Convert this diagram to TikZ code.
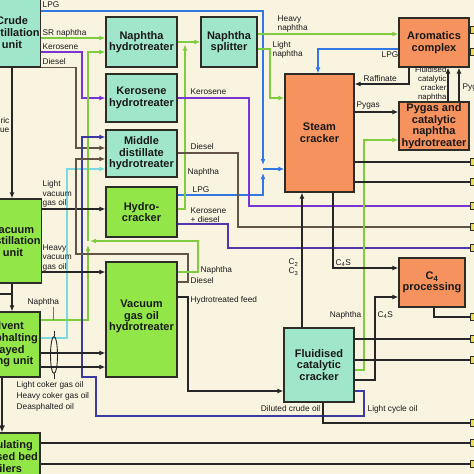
\documentclass[tikz,border=0pt]{standalone}
\usepackage{fontspec}
\setmainfont{Liberation Sans}
\usepackage{tikz}
\usetikzlibrary{arrows.meta, shapes.geometric}

\definecolor{cream}{RGB}{249,244,224}
\definecolor{tealbox}{RGB}{160,230,202}
\definecolor{greenbox}{RGB}{146,230,72}
\definecolor{orangebox}{RGB}{246,146,94}
\definecolor{edge}{RGB}{45,45,40}
\definecolor{naphcol}{RGB}{128,204,64}
\definecolor{lpgcol}{RGB}{50,120,228}
\definecolor{kerocol}{RGB}{122,52,212}
\definecolor{dslcol}{RGB}{98,84,70}
\definecolor{lcocol}{RGB}{58,58,160}
\definecolor{cyncol}{RGB}{120,218,224}
\definecolor{kdcol}{RGB}{82,52,172}
\definecolor{sqcol}{RGB}{232,222,88}

\begin{document}
\begin{tikzpicture}[x=1pt,y=-1pt,>={Latex[length=6pt,width=5pt]},line width=1.3pt]
\tikzstyle{unit}=[draw=edge,line width=1.2pt,inner sep=1pt,align=center,text=black!90,
                  font=\fontsize{11}{11.6}\selectfont\bfseries]
\tikzstyle{ht}=[unit,fill=tealbox]
\tikzstyle{gr}=[unit,fill=greenbox]
\tikzstyle{orng}=[unit,fill=orangebox]
\tikzstyle{lbl}=[inner sep=0pt,align=left,text=black!90,font=\fontsize{8.3}{9.4}\selectfont]
\tikzstyle{outsq}=[draw=edge,fill=sqcol,line width=0.8pt,minimum width=6pt,minimum height=7pt,inner sep=0pt]
\tikzset{blk/.style={draw=black!85}, naph/.style={draw=naphcol}, lpg/.style={draw=lpgcol},
         kero/.style={draw=kerocol}, dsl/.style={draw=dslcol}, lco/.style={draw=lcocol},
         cyn/.style={draw=cyncol}, kd/.style={draw=kdcol}}

\useasboundingbox (0,0) rectangle (474,474);
\clip (0,0) rectangle (474,474);
\fill[cream] (0,0) rectangle (474,474);

        \node[ht, minimum width=54pt, minimum height=69pt]    (cdu) at (12,32.5)    {Crude\\distillation\\unit};
        \node[gr, minimum width=54pt, minimum height=84pt]    (vdu) at (13,241)     {Vacuum\\distillation\\unit};
        \node[gr, minimum width=72pt, minimum height=65pt]    (sda) at (4,344.5)    {Solvent\\deasphalting\\delayed\\coking unit};
        \node[gr, minimum width=72pt, minimum height=47pt]    (cfb) at (4,456.5)    {Circulating\\fluidised bed\\boilers};

        \node[ht, minimum width=71pt, minimum height=50pt]    (nht) at (141.5,42)   {Naphtha\\hydrotreater};
        \node[ht, minimum width=71pt, minimum height=48pt]    (kht) at (141.5,98)   {Kerosene\\hydrotreater};
        \node[ht, minimum width=71pt, minimum height=47pt]    (mdh) at (141.5,153.5) {Middle\\distillate\\hydrotreater};
        \node[gr, minimum width=71pt, minimum height=50pt]    (hc)  at (141.5,212)  {Hydro-\\cracker};
        \node[gr, minimum width=71pt, minimum height=115pt, text depth=8pt] (vgo) at (141.5,319.5) {Vacuum\\gas oil\\hydrotreater};
        \node[ht, minimum width=56pt, minimum height=50pt]    (spl) at (229,42)     {Naphtha\\splitter};

        \node[orng, minimum width=69pt, minimum height=118pt] (sc)  at (319.5,133)  {Steam\\cracker};
        \node[orng, minimum width=70pt, minimum height=49pt]  (aro) at (434,42.5)   {Aromatics\\complex};
        \node[orng, minimum width=70pt, minimum height=48pt]  (pyg) at (434,126)    {Pygas and\\catalytic\\naphtha\\hydrotreater};
        \node[orng, minimum width=66pt, minimum height=49pt]  (c4)  at (432,282.5)  {C\textsubscript{4}\\processing};
        \node[ht, minimum width=70pt, minimum height=74pt]    (fcc) at (319,365)    {Fluidised\\catalytic\\cracker};

        \foreach \yy in {30,52,162,182,206,227,248,317,339,360,423,443,464}
            \node[outsq] (o\yy) at (473,\yy) {};

        \coordinate (lpgA) at (263,165);  \coordinate (lpgB) at (263,173);  \coordinate (lpgJ) at (263,169);
        \coordinate (keA) at (82,98);     \coordinate (dsA) at (76,148);    \coordinate (ar) at (12,0);
        \coordinate (hnA) at (185,44.5);  \coordinate (lnA) at (270,98);    \coordinate (alA) at (318,49);
        \coordinate (rfA) at (409,84);    \coordinate (fnB) at (364,140);   \coordinate (csA) at (333,268);
        \coordinate (csB) at (375,297);   \coordinate (ccA) at (302,0);     \coordinate (c4o) at (434,0);
        \coordinate (dcA) at (323,0);     \coordinate (khA) at (249,206);   \coordinate (mdA) at (238,227);
        \coordinate (hkA) at (228,248);   \coordinate (vdA) at (188,254);   \coordinate (vdB) at (76,159);
        \coordinate (htA) at (188,391);   \coordinate (vnA) at (198,241);   \coordinate (naL) at (90,241);
        \coordinate (naJ) at (88,245);    \coordinate (naK) at (88,241);    \coordinate (cnA) at (53,320);
        \coordinate (cyA) at (67,338);    \coordinate (lcA) at (364,416);   \coordinate (lcB) at (96,377);
        \coordinate (lcC) at (82,137);    \coordinate (vr) at (0,294);      \coordinate (bt) at (2,0);

        % streams
        \draw[lpg,->]  (cdu.east |- 0,11) -| (lpgA);
        \draw[lpg,->]  (hc.east |- 0,195) -| (lpgB);
        \draw[lpg,->]  (lpgJ) -- (sc.west |- lpgJ);
        \draw[naph,->] (cdu.east |- 0,38) -- (nht.west |- 0,38);
        \draw[kero,->] (cdu.east |- 0,52) -| (keA) -- (kht.west |- keA);
        \draw[dsl,->]  (cdu.south east) -| (dsA) -- (mdh.west |- dsA);
        \draw[blk,->]  (cdu.south -| ar) -- (vdu.north -| ar);
        \draw[blk,->]  (vdu.south -| ar) -- (sda.north -| ar);
        \draw[blk]     (vr) -- (vr -| ar);
        \draw[blk,line width=2.4pt,-{Latex[length=7pt,width=6pt]}] (sda.south -| bt) -- (cfb.north -| bt);

        \draw[cyn,->]  (sda.east |- cyA) -- (cyA) |- (mdh.west |- 0,169);
        \draw[naph,->] (sda.east |- cnA) -| (naJ);
        \draw[naph,->] (naK) |- (nht.west |- 0,52);
        \draw[lco,->]  (fcc.east |- 0,391) -| (lcA) -| (lcB) -| (lcC) -- (mdh.west |- lcC);
        \draw[blk,->]  (vdu.east |- 0,209) -- (hc.west |- 0,209);
        \draw[blk,->]  (vdu.east |- 0,272) -- (vgo.west |- 0,272);
        \draw[blk,->]  (sda.east |- 0,353) -- (vgo.west |- 0,353);
        \draw[blk,->]  (sda.east |- 0,367) -- (vgo.west |- 0,367);
        \node[draw=black!85,line width=0.9pt,ellipse,minimum width=7pt,minimum height=37pt,inner sep=0pt] (bnd) at (54,355) {};
        \draw[black!85,line width=0.9pt] (bnd.north) -- ++(0,-5)  (bnd.south) -- ++(0,5);

        \path[->]
        (nht)  edge[naph]  node {}  (spl)
        ; %end path
        \draw[naph,->] (hc.east |- 0,209) -| (hnA);
        \draw[naph,->] (spl.east |- 0,34) -- (aro.west |- 0,34);
        \draw[naph,->] (spl.east |- 0,49) -| (lnA) -- (sc.west |- lnA);
        \draw[kero]    (kht.east |- 0,98) -| (khA) -- (o206.west);
        \draw[dsl]     (mdh.east |- 0,153) -| (mdA) -- (o227.west);
        \draw[kd]      (hc.east |- 0,224) -| (hkA) -- (o248.west);
        \draw[dsl,->]  (vgo.east |- 0,282) -| (vdA) -| (vdB) -- (mdh.west |- vdB);
        \draw[naph,->] (vgo.east |- 0,272) -| (vnA) -- (naL);
        \draw[blk,->]  (vgo.east |- 0,297) -| (htA) -- (fcc.west |- htA);

        \draw[lpg,->]  (aro.west |- alA) -- (alA) -- (sc.north -| alA);
        \draw[blk,->]  (aro.south -| rfA) |- (sc.east |- rfA);
        \draw[blk,->]  (sc.east |- 0,112) -- (pyg.west |- 0,112);
        \draw[blk,->]  (pyg.north -| 448,0) -- (aro.south -| 448,0);
        \draw[blk,->]  (pyg.north -| 459,0) -- (aro.south -| 459,0);
        \draw[naph,->] (fcc.east |- 0,370) -| (fnB) -- (pyg.west |- fnB);
        \draw[blk,->]  (sc.south -| csA) |- (c4.west |- csA);
        \draw[blk,->]  (fcc.east |- 0,380) -| (csB) -- (c4.west |- csB);
        \draw[blk,->]  (fcc.north -| ccA) -- (sc.south -| ccA);
        \draw[blk]     (c4.south -| c4o) |- (o317.west);
        \draw[blk]     (fcc.south -| dcA) |- (o423.west);

        \draw[blk] (aro.east |- o30) -- (o30.west);
        \draw[blk] (aro.east |- o52) -- (o52.west);
        \draw[blk] (sc.east |- o162) -- (o162.west);
        \draw[blk] (sc.east |- o182) -- (o182.west);
        \draw[blk] (fcc.east |- o339) -- (o339.west);
        \draw[blk] (fcc.east |- o360) -- (o360.west);
        \draw[blk] (cfb.east |- o443) -- (o443.west);
        \draw[blk] (cfb.east |- o464) -- (o464.west);

        % labels
        \node[lbl,anchor=west] (tLpg)   at (42,5)    {LPG};
        \node[lbl,anchor=west] (tSrn)   at (42,33)   {SR naphtha};
        \node[lbl,anchor=west] (tKer)   at (42,47)   {Kerosene};
        \node[lbl,anchor=west] (tDsl)   at (42,62)   {Diesel};
        \node[lbl,anchor=east,align=right] (tAtm) at (10,125) {Atmospheric\\residue};
        \node[lbl,anchor=west] (tLvgo)  at (42,194)  {Light\\vacuum\\gas oil};
        \node[lbl,anchor=west] (tHvgo)  at (42,258)  {Heavy\\vacuum\\gas oil};
        \node[lbl,anchor=west] (tNapC)  at (27,302)  {Naphtha};
        \draw[black!55,line width=0.6pt] (tNapC.south -| cnA) -- (cnA);
        \node[lbl,anchor=north west,font=\fontsize{8.3}{11}\selectfont] (tCgo) at (16,381)
             {Light coker gas oil\\Heavy coker gas oil\\Deasphalted oil};
        \node[lbl,anchor=west] (tKerH)  at (190,92)  {Kerosene};
        \node[lbl,anchor=west] (tDslM)  at (190,147) {Diesel};
        \node[lbl,anchor=west] (tNapH)  at (187,172) {Naphtha};
        \node[lbl,anchor=west] (tLpgH)  at (192,190) {LPG};
        \node[lbl,anchor=west] (tKd)    at (190,215) {Kerosene\\+ diesel};
        \node[lbl,anchor=west] (tNapV)  at (200,270) {Naphtha};
        \node[lbl,anchor=west] (tDslV)  at (190,281) {Diesel};
        \node[lbl,anchor=west] (tHtf)   at (190,300) {Hydrotreated feed};
        \node[lbl,anchor=east,align=right,font=\fontsize{8.3}{9}\selectfont] (tC23) at (299,267) {C\textsubscript{2}\\C\textsubscript{3}};
        \node[lbl,anchor=west] (tHvn)   at (277,24)  {Heavy\\naphtha};
        \node[lbl,anchor=west] (tLtn)   at (272,50)  {Light\\naphtha};
        \node[lbl,anchor=west] (tLpgA)  at (381,55)  {LPG};
        \node[lbl,anchor=west] (tRaf)   at (363,79)  {Raffinate};
        \node[lbl,anchor=west] (tPyg)   at (356,106) {Pygas};
        \node[lbl,anchor=east,align=right,font=\fontsize{7.8}{9}\selectfont] (tFccn) at (447,84)
             {Fluidised\\catalytic\\cracker\\naphtha};
        \node[lbl,anchor=west] (tPygR)  at (462,88)  {Pygas};
        \node[lbl,anchor=west] (tC4a)   at (335,263) {C\textsubscript{4}S};
        \node[lbl,anchor=west] (tC4b)   at (377,315) {C\textsubscript{4}S};
        \node[lbl,anchor=east] (tNapF)  at (362,315) {Naphtha};
        \node[lbl,anchor=east] (tDco)   at (321,409) {Diluted crude oil};
        \node[lbl,anchor=west] (tLco)   at (367,409) {Light cycle oil};

\end{tikzpicture}
\end{document}
